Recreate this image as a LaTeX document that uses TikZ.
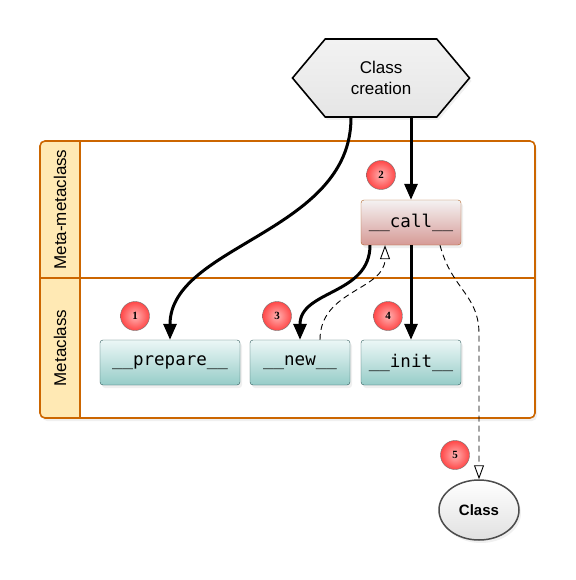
\documentclass[tikz,border=0pt]{standalone}
\usepackage{fontspec}
\setmainfont{Liberation Sans}
\newfontfamily\methodfont{DejaVu Sans Mono}
\newfontfamily\badgefont{Liberation Serif}
\usetikzlibrary{arrows.meta,%
                shapes.geometric,shapes.symbols,shadows,positioning}

\definecolor{laneorange}{RGB}{204,102,0}
\definecolor{lanehead}{RGB}{255,233,180}
\definecolor{tealtop}{RGB}{236,247,246}
\definecolor{tealbot}{RGB}{150,204,200}
\definecolor{tealline}{RGB}{45,90,90}
\definecolor{calltop}{RGB}{244,242,242}
\definecolor{callbot}{RGB}{214,154,150}
\definecolor{callline}{RGB}{176,100,40}

\tikzset{
  softshadow/.style={drop shadow={shadow xshift=2pt,shadow yshift=-3pt,opacity=0.12}},
  method/.style={draw=tealline, rounded corners=3pt, top color=tealtop, bottom color=tealbot,
                 minimum width=100pt, minimum height=45pt, inner sep=0pt, softshadow,
                 font=\methodfont\fontsize{17.5}{17.5}\selectfont},
  metacall/.style={method, draw=callline, top color=calltop, bottom color=callbot},
  creation/.style={shape=signal, signal to=west and east, signal pointer angle=100,
                   draw=black, line width=1.6pt, top color=white!95!black, bottom color=white!90!black,
                   minimum width=177pt, minimum height=78pt, align=center, inner sep=0pt, softshadow,
                   font=\fontsize{17}{21}\selectfont},
  result/.style={ellipse, draw=black!70, line width=1.5pt, top color=white, bottom color=black!12,
                 minimum width=80pt, minimum height=60pt, softshadow,
                 font=\bfseries\fontsize{15}{15}\selectfont},
  badge/.style={circle, draw=black!55, inner color=red!30, outer color=red!72, minimum size=29pt,
                inner sep=0pt, font=\badgefont\bfseries\fontsize{11}{11}\selectfont},
  lanelabel/.style={rotate=90, font=\fontsize{17}{17}\selectfont},
  lane/.style={draw=laneorange, line width=1.6pt},
  flow/.style={draw=black, line width=3pt, -{Triangle[length=16pt,width=13pt]}},
  back/.style={draw=black, line width=0.9pt, dash pattern=on 6pt off 4pt,
               -{Triangle[open,length=14pt,width=10pt,line width=0.9pt]}}
}

\begin{document}
\begin{tikzpicture}[x=1pt,y=-1pt]
\useasboundingbox (0,0) rectangle (575,580);

\fill[white, softshadow, rounded corners=5pt] (40,141) rectangle (535,418);
\begin{scope}
\clip[rounded corners=5pt] (40,141) rectangle (535,418);
\fill[lanehead] (40,141) rectangle (80,418);
\end{scope}
\draw[lane, rounded corners=5pt] (40,141) rectangle (535,418);
\draw[lane] (80,141) -- (80,418);
\draw[lane] (40,278) -- (535,278);
\node[lanelabel] (metameta) at (60,209.5) {Meta-metaclass};
\node[lanelabel] (meta) at (60,348) {Metaclass};

\node[creation] (start) at (381,78) {Class\\creation};
\node[metacall] (call) at (411,222.5) {\_\_call\_\_};
\node[method, minimum width=140pt] (prepare) at (170,362.5) {\_\_prepare\_\_};
\node[method] (new) at (300,362.5) {\_\_new\_\_};
\node[method] (init) at (411,362.5) {\_\_init\_\_};
\node[result] (class) at (479,510) {Class};

\node[badge] (one) at (135,316) {1};
\node[badge] (two) at (381,175) {2};
\node[badge] (three) at (277,316) {3};
\node[badge] (four) at (388,316) {4};
\node[badge] (five) at (455,455) {5};

\draw[flow] ([xshift=-30pt]start.south) .. controls +(0,115) and +(0,-95) .. (prepare.north);
\draw[flow] ([xshift=30pt]start.south) -- (call.north);
\draw[flow] ([xshift=-41pt]call.south) .. controls +(0,50) and +(0,-50) .. (new.north);
\draw[flow] (call.south) -- (init.north);
\draw[back] ([xshift=20pt]new.north) .. controls +(0,-50) and +(0,45) .. ([xshift=-26pt]call.south);
\draw[back] ([xshift=29pt]call.south) .. controls +(12,45) and +(0,-40) .. ([yshift=145pt]class.north) -- (class.north);
\end{tikzpicture}
\end{document}
